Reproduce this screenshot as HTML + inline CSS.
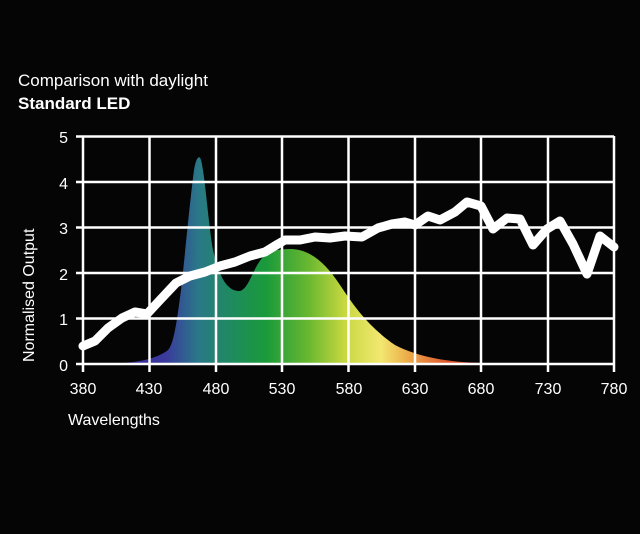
<!DOCTYPE html>
<html><head><style>
html,body{margin:0;padding:0;background:#050505;}
svg{display:block}
text{font-family:"Liberation Sans",sans-serif;fill:#fff}
</style></head><body>
<svg width="640" height="534" viewBox="0 0 640 534">
<rect width="640" height="534" fill="#050505"/>
<defs>
<linearGradient id="g" x1="123" x2="481" y1="0" y2="0" gradientUnits="userSpaceOnUse">
<stop offset="0" stop-color="#3a2a9a"/>
<stop offset="0.12" stop-color="#3a3a9c"/>
<stop offset="0.21" stop-color="#2a7888"/>
<stop offset="0.3" stop-color="#1f8a60"/>
<stop offset="0.4" stop-color="#1a9a3a"/>
<stop offset="0.52" stop-color="#6ab830"/>
<stop offset="0.62" stop-color="#c8d840"/>
<stop offset="0.72" stop-color="#f2e870"/>
<stop offset="0.8" stop-color="#eca848"/>
<stop offset="0.9" stop-color="#de5a30"/>
<stop offset="1" stop-color="#d03028"/>
</linearGradient>
</defs>
<text x="18" y="86" font-size="17">Comparison with daylight</text>
<text x="18" y="109" font-size="17" font-weight="bold">Standard LED</text>
<path d="M123,363 C140,362 158,358 168,350 C174,344 177,320 181,290 C185,255 190,200 194,170 C196,158 199,154 201,160 C205,175 208,220 213,250 C218,272 225,290 238,291 C248,292 252,270 262,258 C270,250 280,249 292,249 C310,250 325,262 340,285 C355,308 370,328 395,345 C420,358 450,362 481,363 Z" fill="url(#g)"/>
<g stroke="#fff" stroke-width="2.5">
<line x1="76" y1="136.5" x2="614" y2="136.5"/>
<line x1="76" y1="182" x2="614" y2="182"/>
<line x1="76" y1="227.5" x2="614" y2="227.5"/>
<line x1="76" y1="273" x2="614" y2="273"/>
<line x1="76" y1="318.5" x2="614" y2="318.5"/>
<line x1="76" y1="364" x2="614" y2="364"/>
<line x1="83" y1="136" x2="83" y2="372"/>
<line x1="149.5" y1="136" x2="149.5" y2="372"/>
<line x1="216" y1="136" x2="216" y2="372"/>
<line x1="282" y1="136" x2="282" y2="372"/>
<line x1="348.5" y1="136" x2="348.5" y2="372"/>
<line x1="415" y1="136" x2="415" y2="372"/>
<line x1="481" y1="136" x2="481" y2="372"/>
<line x1="548" y1="136" x2="548" y2="372"/>
<line x1="614" y1="136" x2="614" y2="372"/>
</g>
<polyline fill="none" stroke="#fff" stroke-width="9" stroke-linejoin="round" stroke-linecap="round" points="83,346 95,341 108,328 122,318 135,312 147,314 160,300 176,283 190,276 205,272 220,266 235,262 250,256 265,252 278,244 285,240 300,240 315,237 330,238 345,236 362,237 378,228 392,224 405,222 415,225 428,216 440,220 455,212 467,202 481,206 493,229 507,218 520,219 533,245 547,229 560,221 573,244 587,274 600,236 614,247"/>
<g font-size="16" text-anchor="end">
<text x="68" y="143">5</text>
<text x="68" y="189">4</text>
<text x="68" y="234">3</text>
<text x="68" y="280">2</text>
<text x="68" y="325">1</text>
<text x="68" y="371">0</text>
</g>
<g font-size="16" text-anchor="middle">
<text x="83" y="394">380</text>
<text x="149" y="394">430</text>
<text x="216" y="394">480</text>
<text x="282" y="394">530</text>
<text x="349" y="394">580</text>
<text x="415" y="394">630</text>
<text x="481" y="394">680</text>
<text x="548" y="394">730</text>
<text x="614" y="394">780</text>
</g>
<text x="68" y="425" font-size="16">Wavelengths</text>
<text transform="translate(34,362) rotate(-90)" font-size="16">Normalised Output</text>
</svg>
</body></html>
